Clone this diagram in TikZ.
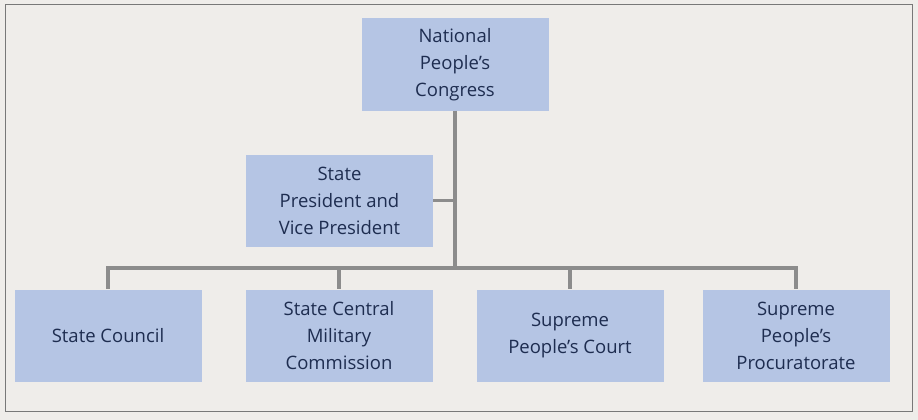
\documentclass[tikz,border=0pt]{standalone}
\usepackage{fontspec}
\setmainfont{Open Sans}
\definecolor{bg}{RGB}{239,237,234}
\definecolor{boxc}{RGB}{181,197,228}
\definecolor{txt}{RGB}{30,45,80}
\definecolor{lin}{RGB}{140,140,140}
\definecolor{frm}{RGB}{120,120,120}
\begin{document}
\begin{tikzpicture}[x=1pt,y=-1pt,
  box/.style={draw=none,fill=boxc,minimum width=187pt,minimum height=92pt,align=center,text=txt,font=\fontsize{18.5}{27}\selectfont,inner sep=0pt},
  conn/.style={draw=lin,line width=3.5pt}]
\fill[bg] (0,0) rectangle (918,420);
\useasboundingbox (0,0) rectangle (918,420);
\draw[frm,line width=1pt] (5,5) rectangle (912,411);
\node[box] (npc) at (455,64.5) {National\\People’s\\Congress};
\node[box] (sp) at (339.5,200.5) {State\\President and\\Vice President};
\node[box] (sc) at (108,335.5) {State Council};
\node[box] (cmc) at (339,335.5) {State Central\\Military\\Commission};
\node[box] (spc) at (570,335.5) {Supreme\\People’s Court};
\node[box] (spp) at (796,335.5) {Supreme\\People’s\\Procuratorate};
\coordinate (j) at (455,268);
\coordinate (l) at (108,268);
\coordinate (r) at (796,268);
\draw[conn] (npc.south) -- (j);
\draw[conn] (sp.east) -- (sp.east -| j);
\draw[conn,line cap=rect] (l) -- (r);
\draw[conn] (l) -- (sc.north);
\draw[conn] (cmc.north |- j) -- (cmc.north);
\draw[conn] (spc.north |- j) -- (spc.north);
\draw[conn] (r) -- (spp.north);
\end{tikzpicture}
\end{document}
